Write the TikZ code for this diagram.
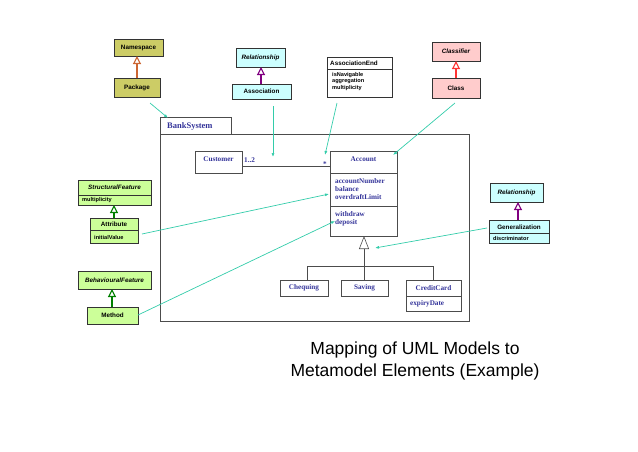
\documentclass[tikz,border=0pt]{standalone}
\usepackage{fontspec}
\setmainfont{Liberation Serif}
\newfontfamily\sansf{Liberation Sans}
\usetikzlibrary{arrows.meta}
\definecolor{olv}{HTML}{CCCC66}
\definecolor{cyn}{HTML}{CCFFFF}
\definecolor{pnk}{HTML}{FFCCCC}
\definecolor{grn}{HTML}{CCFF99}
\definecolor{tl}{HTML}{33CCAA}
\definecolor{dblue}{HTML}{333399}
\begin{document}
\begin{tikzpicture}[x=1pt,y=-1pt,
 meta/.style={draw=black!80,line width=0.6pt},
 mtxt/.style={font=\sansf\bfseries\fontsize{6.3}{7}\selectfont,inner sep=0},
 stxt/.style={font=\sansf\bfseries\fontsize{5.6}{6.6}\selectfont,inner sep=0},
 utxt/.style={font=\bfseries\fontsize{7.2}{8.2}\selectfont,text=dblue,inner sep=0},
 ubox/.style={draw=black!70,line width=0.6pt},
 map/.style={draw=tl,line width=0.7pt,-{Latex[length=4pt,width=3pt]}},
 gen/.style={line width=1.1pt,-{Triangle[open,length=8pt,width=8pt,fill=white]}}]
\useasboundingbox (0,0) rectangle (638,451);
% metamodel boxes
\filldraw[meta,fill=olv] (114,39) rectangle (163,56); \node[mtxt] (ns) at (138.5,47.5) {Namespace};
\filldraw[meta,fill=olv] (114,78) rectangle (160,97); \node[mtxt] (pk) at (137,87.5) {Package};
\draw[gen,draw=brown!80!red] (137,78) -- (137,56);
\filldraw[meta,fill=cyn] (236,48) rectangle (285,67); \node[mtxt] (rel1) at (260.5,57.5) {\itshape Relationship};
\filldraw[meta,fill=cyn] (232,84) rectangle (291,99); \node[mtxt] (as) at (261.5,91.5) {Association};
\draw[gen,draw=violet] (261,84) -- (261,67);
\filldraw[meta,fill=white] (327,57) rectangle (392,97); \draw[meta] (327,69)--(392,69);
\node[mtxt,anchor=west] (ae) at (330,63) {AssociationEnd};
\node[stxt,anchor=north west,align=left] (aea) at (332,72) {isNavigable\\aggregation\\multiplicity};
\filldraw[meta,fill=pnk] (432,42) rectangle (480,61); \node[mtxt] (cf) at (456,51.5) {\itshape Classifier};
\filldraw[meta,fill=pnk] (432,78) rectangle (480,98); \node[mtxt] (cl) at (456,88) {Class};
\draw[gen,draw=red!80] (456,78) -- (456,61);
\filldraw[meta,fill=grn] (78,180) rectangle (151,205); \draw[meta] (78,195)--(151,195);
\node[mtxt] (sf) at (114.5,187.5) {\itshape StructuralFeature};
\node[stxt,anchor=west] (mu) at (82,200) {multiplicity};
\filldraw[meta,fill=grn] (90,218) rectangle (138,243); \draw[meta] (90,230)--(138,230);
\node[mtxt] (at) at (114,224) {Attribute};
\node[stxt,anchor=west] (iv) at (94,237) {initialValue};
\draw[gen,draw=green!50!black] (114,218) -- (114,205);
\filldraw[meta,fill=grn] (78,271) rectangle (151,289); \node[mtxt] (bf) at (114.5,280) {\itshape BehaviouralFeature};
\filldraw[meta,fill=grn] (87,307) rectangle (138,324); \node[mtxt] (me) at (112.5,315.5) {Method};
\draw[gen,draw=green!50!black] (112,307) -- (112,289);
\filldraw[meta,fill=cyn] (490,183) rectangle (543,202); \node[mtxt] (rel2) at (516.5,192.5) {\itshape Relationship};
\filldraw[meta,fill=cyn] (489,220) rectangle (549,243); \draw[meta] (489,233)--(549,233);
\node[mtxt] (ge) at (519,227) {Generalization};
\node[stxt,anchor=west] (di) at (493,238.5) {discriminator};
\draw[gen,draw=violet] (518,220) -- (518,202);
% UML model
\draw[ubox] (160,117) rectangle (231,134); \node[utxt,font=\bfseries\fontsize{8.5}{10}\selectfont,anchor=west] (bs) at (167,126) {BankSystem};
\draw[ubox] (160,134) rectangle (469,321);
\draw[ubox] (195,151) rectangle (242,173); \node[utxt] (cu) at (218.5,159) {Customer};
\draw[ubox] (330,151) rectangle (397,236); \draw[ubox] (330,173)--(397,173); \draw[ubox] (330,206)--(397,206);
\node[utxt] (ac) at (363.5,159) {Account};
\node[utxt,anchor=north west,align=left] (aca) at (335,178) {accountNumber\\balance\\overdraftLimit};
\node[utxt,anchor=north west,align=left] (acm) at (335,211) {withdraw\\deposit};
\draw[ubox] (242,166) -- (330,166);
\node[utxt,anchor=west] (m1) at (244,160) {1..2};
\node[utxt] (m2) at (325,164) {*};
\draw[ubox] (280,280) rectangle (328,296); \node[utxt] (ch) at (304,288) {Chequing};
\draw[ubox] (341,280) rectangle (388,296); \node[utxt] (sa) at (364.5,288) {Saving};
\draw[ubox] (406,280) rectangle (461,311); \draw[ubox] (406,296)--(461,296);
\node[utxt] (cc) at (433.5,288) {CreditCard};
\node[utxt,anchor=west] (ed) at (410,303.5) {expiryDate};
\draw[ubox] (307,280) -- (307,266) -- (433,266) -- (433,280);
\draw[ubox] (364,280) -- (364,266);
\draw[ubox,-{Triangle[open,length=13pt,width=10pt,fill=white]}] (364,266) -- (364,236);
% mapping arrows
\coordinate (t1) at (168,118); \coordinate (t2) at (273,157); \coordinate (t3) at (325,155);
\coordinate (t4) at (393,155); \coordinate (t5) at (329,194); \coordinate (t6) at (335,221); \coordinate (t7) at (375,248);
\draw[map] (150,103) -- (t1);
\draw[map] (273,106) -- (t2);
\draw[map] (337,103) -- (t3);
\draw[map] (455,103) -- (t4);
\draw[map] (142,234) -- (t5);
\draw[map] (138,315) -- (t6);
\draw[map] (487,228) -- (t7);
% title
\node[font=\sansf\fontsize{17.5}{21.5}\selectfont,align=center] (title) at (415,361) {Mapping of UML Models to\\Metamodel Elements (Example)};
\end{tikzpicture}
\end{document}
